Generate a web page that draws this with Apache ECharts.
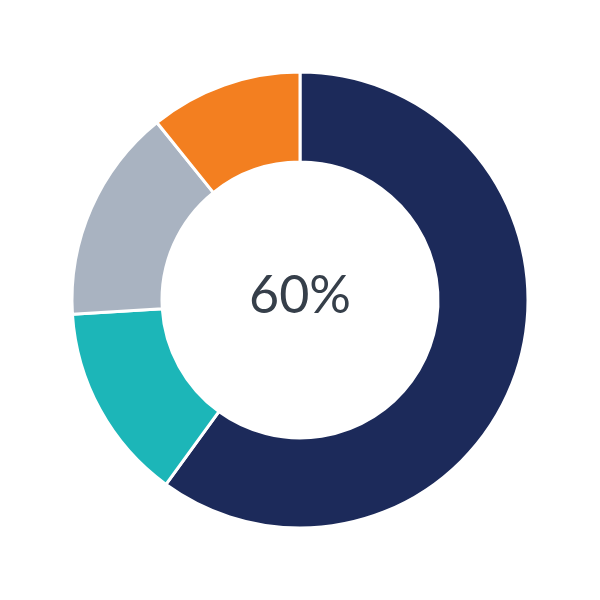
<!DOCTYPE html>
<html>
<head>
<meta charset="utf-8">
<script src="https://cdn.jsdelivr.net/npm/echarts@6/dist/echarts.min.js"></script>
<style>
  html, body { margin: 0; padding: 0; background: #fff; }
  #chart { width: 600px; height: 600px; }
</style>
</head>
<body>
<div id="chart"></div>
<script>
// slice names and shares (percent)
var names = ['A', 'B', 'C', 'D'];
var values = [60, 14, 15.2, 10.8];
var colors = ['#1c2a5a', '#1cb6b8', '#a9b3c1', '#f37f20'];
var centerLabel = '60%';

var chart = echarts.init(document.getElementById('chart'));

var pieData = names.map(function (n, i) {
    return { name: n, value: values[i], itemStyle: { color: colors[i] } };
});

chart.setOption({
    animation: false,
    title: {
        text: centerLabel,
        left: 'center',
        top: 265,
        textStyle: {
            fontFamily: 'Lato',
            fontWeight: 'normal',
            fontSize: 52,
            color: '#363f4a'
        }
    },
    series: [
        {
            type: 'pie',
            center: [300, 300],
            radius: [138, 228],
            startAngle: 90,
            clockwise: true,
            label: { show: false },
            labelLine: { show: false },
            itemStyle: {
                borderColor: '#ffffff',
                borderWidth: 3
            },
            data: pieData
        }
    ]
});
</script>
</body>
</html>
